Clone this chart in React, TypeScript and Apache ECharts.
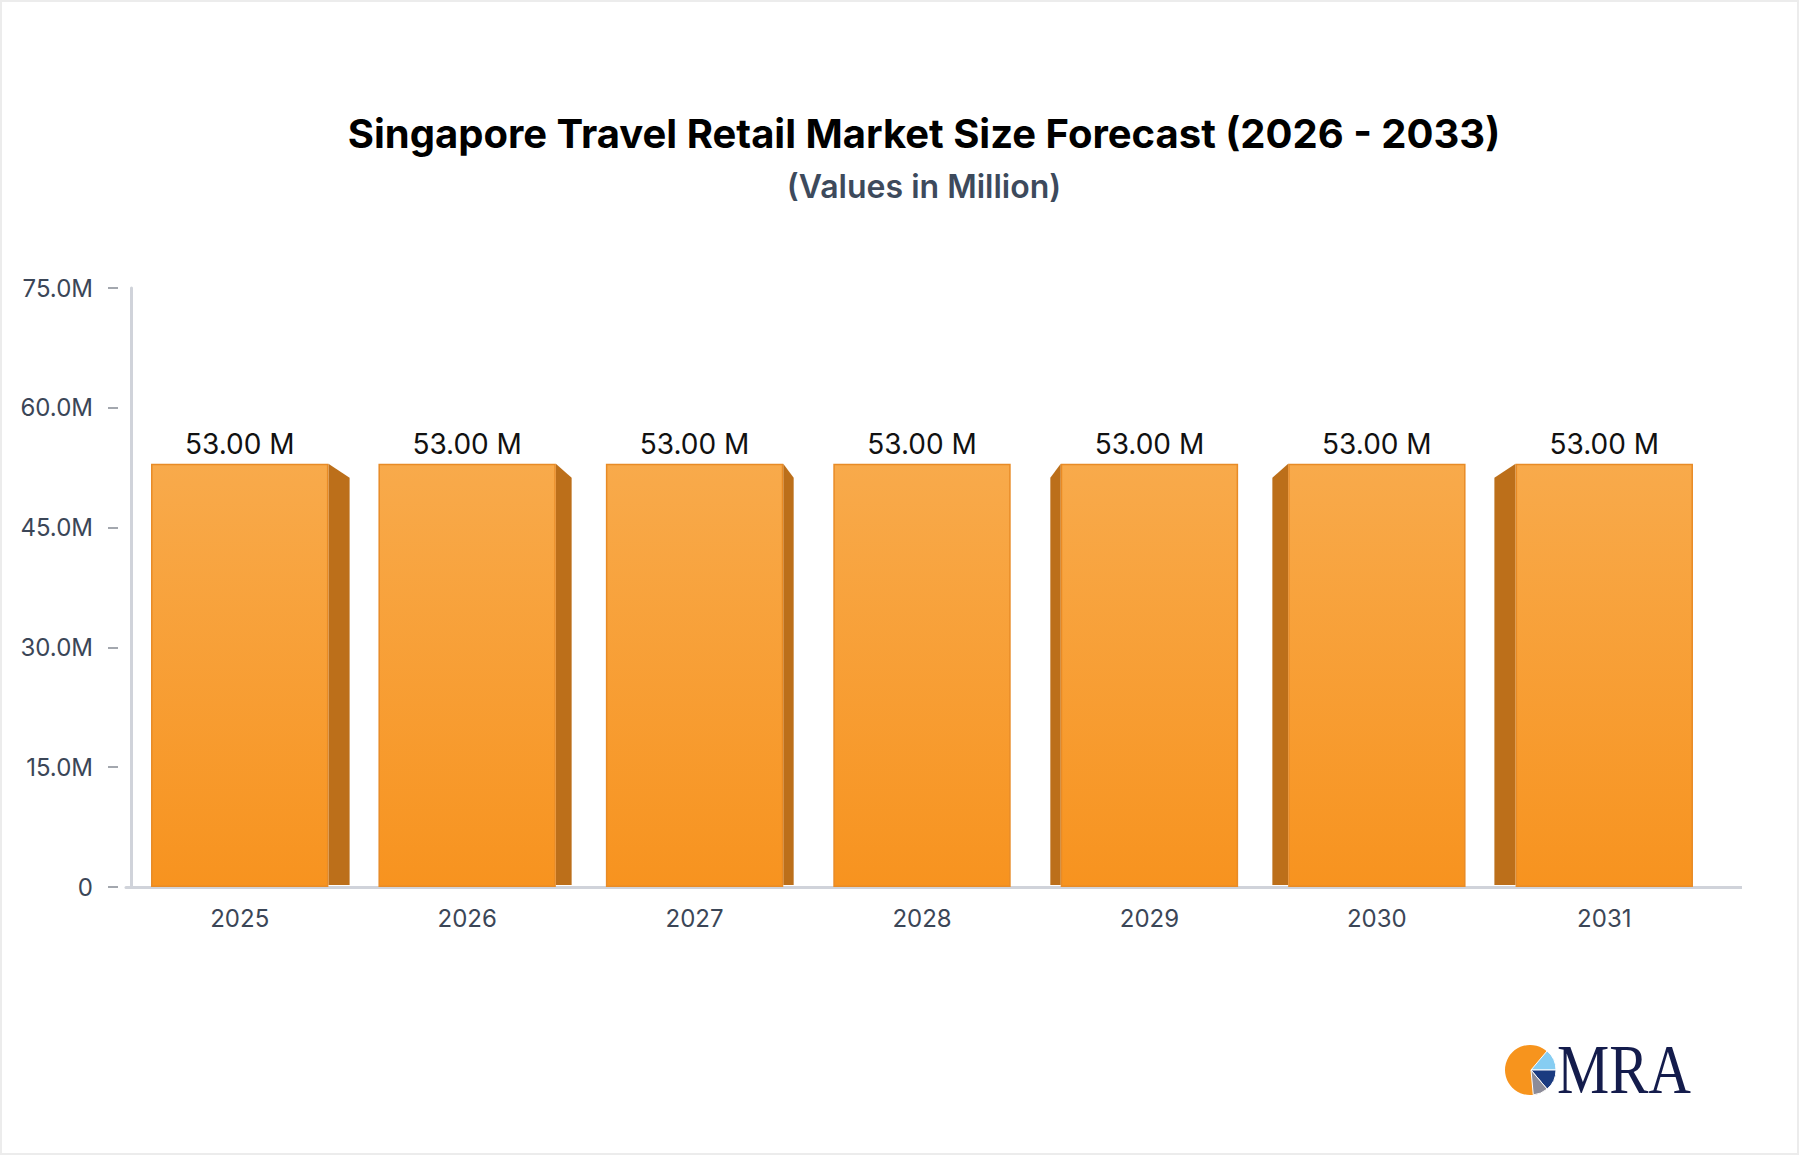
import React, { useEffect, useRef } from "react";
import * as echarts from "echarts";

const categories = ["2025", "2026", "2027", "2028", "2029", "2030", "2031"];
const values = [53, 53, 53, 53, 53, 53, 53];
const yMin = 0;
const yMax = 75;
const yInterval = 15;
const titleText = "Singapore Travel Retail Market Size Forecast (2026 - 2033)";
const subtitleText = "(Values in Million)";

const FONT = "Inter, 'Noto Sans', sans-serif";

export default function App() {
  const ref = useRef<HTMLDivElement>(null);

  useEffect(() => {
    document.body.style.margin = "0";
    if (!ref.current) return;
    const chart = echarts.init(ref.current, undefined, { renderer: "svg" });
    const center = (categories.length - 1) / 2;
    const barRatio = 0.78;

    const option: any = {
      animation: false,
      backgroundColor: "#ffffff",
      grid: { left: 126, right: 82, top: 288, bottom: 269, containLabel: false },
      xAxis: {
        type: "category",
        data: categories,
        axisLine: { show: true, lineStyle: { color: "#d0d3da", width: 3 } },
        axisTick: { show: false },
        axisLabel: { fontSize: 24, color: "#3b4657", margin: 19, fontFamily: FONT },
        splitLine: { show: false },
      },
      yAxis: [
        {
          type: "value",
          position: "left",
          offset: 8,
          min: yMin,
          max: yMax,
          interval: yInterval,
          axisLine: { show: false },
          axisTick: { show: true, length: 10, lineStyle: { color: "#a3a7ae", width: 2 } },
          axisLabel: {
            fontSize: 24,
            color: "#3b4657",
            margin: 25,
            fontFamily: FONT,
            formatter: (v: number) => (v === 0 ? "0" : v.toFixed(1) + "M"),
          },
          splitLine: { show: false },
        },
        {
          type: "value",
          position: "left",
          offset: -5,
          min: yMin,
          max: yMax,
          interval: yInterval,
          axisLine: { show: true, lineStyle: { color: "#d0d3da", width: 3 } },
          axisTick: { show: false },
          axisLabel: { show: false },
          splitLine: { show: false },
        },
      ],
      series: [
        {
          type: "custom",
          z: 1,
          yAxisIndex: 0,
          data: values.map((v, i) => [i, v]),
          renderItem: (params: any, api: any) => {
            const idx = api.value(0);
            const val = api.value(1);
            const d = idx - center;
            if (d === 0) return { type: "group", children: [] };
            const top = api.coord([idx, val]);
            const base = api.coord([idx, 0]);
            const bw = api.size([1, 0])[0] * barRatio;
            const depth = 5 + 5.4 * Math.abs(d);
            const drop = 14;
            const bottom = base[1] - 2;
            let pts;
            if (d < 0) {
              const r = top[0] + bw / 2;
              pts = [
                [r, top[1]],
                [r + depth, top[1] + drop],
                [r + depth, bottom],
                [r, bottom],
              ];
            } else {
              const l = top[0] - bw / 2;
              pts = [
                [l, top[1]],
                [l - depth, top[1] + drop],
                [l - depth, bottom],
                [l, bottom],
              ];
            }
            return {
              type: "polygon",
              shape: { points: pts },
              style: { fill: "#bc6f1a" },
            };
          },
        },
        {
          type: "bar",
          z: 2,
          yAxisIndex: 0,
          data: values,
          barWidth: barRatio * 100 + "%",
          itemStyle: {
            color: new echarts.graphic.LinearGradient(0, 0, 0, 1, [
              { offset: 0, color: "#f8aa4b" },
              { offset: 1, color: "#f7931f" },
            ]),
            borderColor: "#e88b26",
            borderWidth: 1.5,
          },
          label: {
            show: true,
            position: "top",
            distance: 6,
            fontSize: 28,
            color: "#111111",
            fontFamily: FONT,
            formatter: (p: any) => Number(p.value).toFixed(2) + " M",
          },
        },
      ],
      graphic: [
        {
          type: "rect",
          silent: true,
          shape: { x: 1, y: 1, width: 1797, height: 1153 },
          style: { fill: "none", stroke: "#ececec", lineWidth: 2 },
        },
        {
          type: "text",
          x: 924,
          y: 133,
          style: {
            text: titleText,
            fontSize: 40,
            fontWeight: 700,
            fontFamily: FONT,
            fill: "#000000",
            align: "center",
            verticalAlign: "middle",
          },
        },
        {
          type: "text",
          x: 924,
          y: 186,
          style: {
            text: subtitleText,
            fontSize: 32,
            fontWeight: 600,
            fontFamily: FONT,
            fill: "#3d4a5c",
            align: "center",
            verticalAlign: "middle",
          },
        },
        {
          type: "line",
          silent: true,
          shape: { x1: 1716, y1: 887.5, x2: 1742, y2: 887.5 },
          style: { stroke: "#d0d3da", lineWidth: 3 },
        },
        {
          type: "group",
          silent: true,
          children: [
            {
              type: "circle",
              shape: { cx: 1530, cy: 1070, r: 25 },
              style: { fill: "#f7941d" },
            },
            {
              type: "sector",
              shape: { cx: 1531, cy: 1070, r: 25, r0: 0, startAngle: -0.87, endAngle: 0, clockwise: true },
              style: { fill: "#86cdf2", stroke: "#ffffff", lineWidth: 1 },
            },
            {
              type: "sector",
              shape: { cx: 1531, cy: 1070, r: 25, r0: 0, startAngle: 0, endAngle: 0.87, clockwise: true },
              style: { fill: "#1b3b80", stroke: "#ffffff", lineWidth: 1 },
            },
            {
              type: "sector",
              shape: { cx: 1531, cy: 1070, r: 25, r0: 0, startAngle: 0.87, endAngle: 1.48, clockwise: true },
              style: { fill: "#8c8c99", stroke: "#ffffff", lineWidth: 1 },
            },
            {
              type: "text",
              x: 1557,
              y: 1069,
              scaleX: 0.84,
              style: {
                text: "MRA",
                fontSize: 70,
                fontFamily: "'Liberation Serif', 'DejaVu Serif', serif",
                fill: "#141c4c",
                align: "left",
                verticalAlign: "middle",
              },
            },
          ],
        },
      ],
    };

    chart.setOption(option);
    return () => {
      chart.dispose();
    };
  }, []);

  return <div ref={ref} style={{ width: 1800, height: 1156 }} />;
}
